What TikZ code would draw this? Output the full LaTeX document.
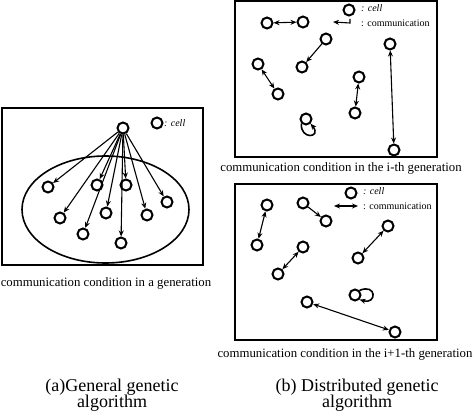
\documentclass[tikz,border=0pt]{standalone}
\usepackage{fontspec}
\setmainfont{Liberation Serif}
\usetikzlibrary{arrows.meta}
\begin{document}
\begin{tikzpicture}[x=1pt,y=-1pt,
  cell/.style={circle,draw,line width=2pt,minimum size=11pt,inner sep=0pt},
  frame/.style={draw,line width=2pt},
  comm/.style={line width=1.1pt,-{Stealth[length=6pt,width=5pt]}},
  bicomm/.style={line width=1.1pt,{Stealth[length=6pt,width=5pt]}-{Stealth[length=6pt,width=5pt]}},
  captext/.style={font=\fontsize{12.8}{14}\selectfont,inner sep=0pt},
  big/.style={font=\fontsize{18}{16.5}\selectfont,align=center,inner sep=0pt},
  leg/.style={font=\fontsize{10}{11}\selectfont,inner sep=0pt,anchor=west}]
\useasboundingbox (0,0) rectangle (474,417);
% ---------- (a) ----------
\draw[frame] (2,108) rectangle (203,265);
\draw[line width=1.6pt] (105.5,209.5) ellipse (83.5 and 53.5);
\node[cell] (lc) at (157,123) {};
\node[leg,font=\fontsize{10}{11}\selectfont\itshape] (lct) at (164,123) {: cell};
\node[cell] (top) at (123,128) {};
\foreach \n/\p in {a1/{(48,187)},a2/{(97,185)},a3/{(126,185)},a4/{(167,202)},a5/{(60,218)},a6/{(106,213)},a7/{(147,215)},a8/{(83,234)},a9/{(121,243)}}{
  \node[cell] (\n) at \p {};
  \draw[comm] (top) -- (\n);
}
\node[captext] (capa) at (106,283) {communication condition in a generation};
% ---------- (b) top ----------
\draw[frame] (235,1) rectangle (437,157);
\node[cell] (l1c) at (349,10) {};
\node[leg,font=\fontsize{10}{11}\selectfont\itshape] (l1ct) at (361,8) {: cell};
\coordinate (l1a) at (350,19);
\coordinate (l1b) at (333,22);
\draw[comm] (l1a) -- ++(0,4) -- (l1b);
\node[leg] (l1t) at (361,23) {: communication};
\node[cell] (b1) at (267,23) {};
\node[cell] (b2) at (303,22) {};
\draw[bicomm] (b1) -- (b2);
\node[cell] (b3) at (326,39) {};
\node[cell] (b4) at (302,67) {};
\draw[comm] (b3) -- (b4);
\node[cell] (b5) at (258,64) {};
\node[cell] (b6) at (278,94) {};
\draw[bicomm] (b5) -- (b6);
\node[cell] (b7) at (390,44) {};
\node[cell] (b8) at (394,150) {};
\draw[bicomm] (b7) -- (b8);
\node[cell] (b9) at (359,77) {};
\node[cell] (b10) at (355,113) {};
\draw[bicomm] (b9) -- (b10);
\node[cell] (b11) at (306,119) {};
\draw[comm,line width=1.6pt] (b11.south west) .. controls (300,140) and (322,138) .. (b11.south east);
\node[captext] (capb1) at (341,168) {communication condition in the i-th generation};
% ---------- (b) bottom ----------
\draw[frame] (235,184) rectangle (437,340);
\node[cell] (l2c) at (351,193) {};
\node[leg,font=\fontsize{10}{11}\selectfont\itshape] (l2ct) at (363,191) {: cell};
\coordinate (l2a) at (334,206);
\coordinate (l2b) at (358,206);
\draw[bicomm] (l2a) -- (l2b);
\node[leg] (l2t) at (363,206) {: communication};
\node[cell] (c1) at (267,205) {};
\node[cell] (c2) at (257,245) {};
\draw[bicomm] (c1) -- (c2);
\node[cell] (c3) at (303,203) {};
\node[cell] (c4) at (326,221) {};
\draw[comm] (c3) -- (c4);
\node[cell] (c5) at (303,247) {};
\node[cell] (c6) at (278,274) {};
\draw[bicomm] (c5) -- (c6);
\node[cell] (c7) at (388,226) {};
\node[cell] (c8) at (358,258) {};
\draw[bicomm] (c7) -- (c8);
\node[cell] (c9) at (307,302) {};
\node[cell] (c10) at (395,332) {};
\draw[bicomm] (c9) -- (c10);
\node[cell] (c11) at (355,295) {};
\draw[comm,line width=1.6pt] (c11.north east) .. controls (377,283) and (377,305) .. (c11.south east);
\node[captext] (capb2) at (345,354) {communication condition in the i+1-th generation};
% ---------- bottom captions ----------
\node[big] (ta) at (112,395) {(a)General genetic\\algorithm};
\node[big] (tb) at (357,395) {(b) Distributed genetic\\algorithm};
\end{tikzpicture}
\end{document}
